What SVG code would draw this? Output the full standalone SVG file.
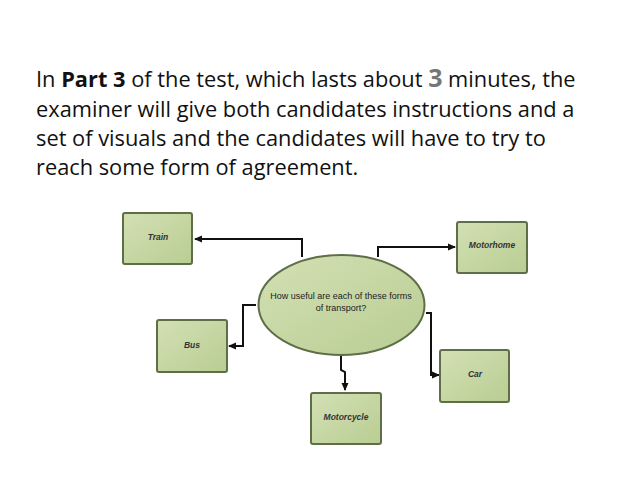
<svg xmlns="http://www.w3.org/2000/svg" width="638" height="478" viewBox="0 0 638 478">
<defs>
<linearGradient id="g" x1="0" y1="0" x2="1" y2="1"><stop offset="0" stop-color="#d3e0b4"/><stop offset="1" stop-color="#b9cd93"/></linearGradient>
<marker id="a" markerWidth="8" markerHeight="8" refX="7" refY="4" orient="auto" markerUnits="userSpaceOnUse"><path d="M0,0.5 L8,4 L0,7.5 z" fill="#111"/></marker>
</defs>
<style>
.t{font-family:"Open Sans","Liberation Sans",sans-serif;font-size:21.8px;fill:#111}
.b{fill:url(#g);stroke:#5e6f48;stroke-width:2}
.l{font-family:"Liberation Sans",Arial,sans-serif;font-size:8.5px;font-style:italic;font-weight:bold;fill:#333;text-anchor:middle}
.m{font-family:"Liberation Sans",Arial,sans-serif;font-size:9px;fill:#222;text-anchor:middle}
.c{fill:none;stroke:#111;stroke-width:2;marker-end:url(#a)}
</style>
<rect width="638" height="478" fill="#fff"/>
<text class="t" x="36" y="87">In <tspan font-weight="bold">Part 3</tspan> of the test, which lasts about <tspan font-weight="bold" fill="#777" font-size="25">3</tspan> minutes, the</text>
<text class="t" x="36" y="117">examiner will give both candidates instructions and a</text>
<text class="t" x="36" y="146">set of visuals and the candidates will have to try to</text>
<text class="t" x="36" y="175">reach some form of agreement.</text>
<g id="connectors">
<path class="c" d="M302,257 V239 H195"/>
<path class="c" d="M378,257 V247 H455"/>
<path class="c" d="M256,305 H243 V346 H229"/>
<path class="c" d="M426,313 H431 V375 H439"/>
<path class="c" d="M341,355 V370 L345,372 V390"/>
</g>
<g id="center"><ellipse cx="341.5" cy="305" rx="83" ry="50" class="b"/>
<text x="341" y="299" class="m">How useful are each of these forms</text>
<text x="341" y="311" class="m">of transport?</text></g>
<g id="train"><rect class="b" x="123" y="213" width="69" height="51" rx="2"/><text class="l" x="158" y="240">Train</text></g>
<g id="motorhome"><rect class="b" x="457" y="222" width="70" height="51" rx="2"/><text class="l" x="492" y="248">Motorhome</text></g>
<g id="bus"><rect class="b" x="157" y="320" width="70" height="52" rx="2"/><text class="l" x="192" y="348">Bus</text></g>
<g id="car"><rect class="b" x="440" y="350" width="69" height="52" rx="2"/><text class="l" x="475" y="377">Car</text></g>
<g id="motorcycle"><rect class="b" x="311" y="393" width="70" height="51" rx="2"/><text class="l" x="346" y="420">Motorcycle</text></g>
</svg>
